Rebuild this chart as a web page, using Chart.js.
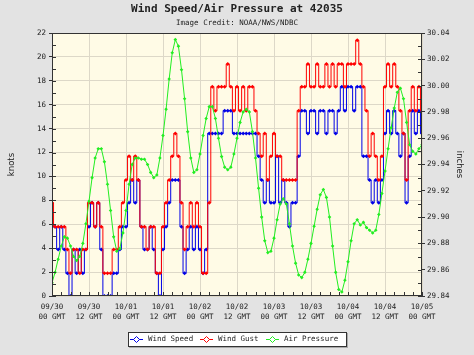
<!DOCTYPE html>
<html><head><meta charset="utf-8">
<script src="https://cdn.jsdelivr.net/npm/chart.js@4"></script>
<style>html,body{margin:0;padding:0;background:#e3e3e3;overflow:hidden}</style>
</head><body>
<canvas id="c" width="474" height="355" style="display:block;width:474px;height:355px"></canvas>
<script>
const chartTitle = "Wind Speed/Air Pressure at 42035";
const chartSubtitle = "Image Credit: NOAA/NWS/NDBC";
const leftAxisTitle = "knots";
const rightAxisTitle = "inches";
const xTickLabels = [["09/30","00 GMT"],["09/30","12 GMT"],["10/01","00 GMT"],["10/01","12 GMT"],["10/02","00 GMT"],["10/02","12 GMT"],["10/03","00 GMT"],["10/03","12 GMT"],["10/04","00 GMT"],["10/04","12 GMT"],["10/05","00 GMT"]];
const seriesNames = ["Wind Speed","Wind Gust","Air Pressure"];
// hourly samples starting 09/30 00 GMT
const windSpeed = [
 5.8,5.8,3.9,5.8,3.9,1.9,0,3.9,1.9,3.9,
 1.9,3.9,5.8,7.8,5.8,7.8,3.9,0,0,0,
 1.9,1.9,3.9,5.8,5.8,7.8,9.7,7.8,9.7,5.8,
 3.9,3.9,5.8,3.9,1.9,0,3.9,5.8,7.8,9.7,
 9.7,9.7,5.8,1.9,3.9,5.8,3.9,5.8,3.9,1.9,
 3.9,13.6,13.6,13.6,13.6,13.6,15.5,15.5,15.5,13.6,
 13.6,13.6,13.6,13.6,13.6,13.6,13.6,11.7,9.7,7.8,
 9.7,7.8,7.8,11.7,7.8,9.7,7.8,5.8,7.8,7.8,
 11.7,15.5,15.5,13.6,15.5,15.5,13.6,15.5,15.5,13.6,
 15.5,15.5,13.6,15.5,17.5,15.5,17.5,17.5,15.5,17.5,
 17.5,11.7,11.7,9.7,7.8,9.7,7.8,9.7,13.6,15.5,
 13.6,15.5,13.6,11.7,13.6,7.8,11.7,15.5,13.6,15.5,
 13.6];
const windGust = [
 7.8,5.8,5.8,5.8,5.8,3.9,1.9,3.9,3.9,1.9,
 3.9,3.9,7.8,7.8,5.8,7.8,5.8,1.9,1.9,1.9,
 3.9,3.9,5.8,7.8,9.7,11.7,9.7,11.7,9.7,5.8,
 5.8,3.9,5.8,5.8,1.9,1.9,5.8,7.8,9.7,11.7,
 13.6,11.7,7.8,3.9,5.8,7.8,5.8,7.8,5.8,1.9,
 1.9,7.8,17.5,15.5,17.5,17.5,17.5,19.4,17.5,15.5,
 17.5,15.5,17.5,15.5,17.5,17.5,15.5,13.6,11.7,13.6,
 9.7,11.7,13.6,11.7,11.7,9.7,9.7,9.7,9.7,9.7,
 15.5,17.5,17.5,19.4,17.5,17.5,19.4,17.5,17.5,19.4,
 17.5,19.4,17.5,19.4,19.4,17.5,19.4,19.4,19.4,21.4,
 19.4,17.5,15.5,11.7,13.6,11.7,9.7,11.7,17.5,19.4,
 17.5,19.4,17.5,15.5,13.6,9.7,15.5,17.5,15.5,17.5,
 15.5];
const airPressure = [
 29.850,29.858,29.868,29.878,29.885,29.884,29.878,29.870,29.867,29.870,
 29.880,29.895,29.912,29.930,29.945,29.952,29.952,29.942,29.925,29.905,
 29.885,29.874,29.876,29.888,29.905,29.925,29.940,29.945,29.945,29.944,
 29.944,29.940,29.934,29.930,29.932,29.945,29.962,29.982,30.005,30.025,
 30.035,30.030,30.012,29.990,29.965,29.945,29.934,29.936,29.948,29.962,
 29.975,29.984,29.984,29.975,29.960,29.946,29.938,29.936,29.938,29.948,
 29.960,29.972,29.980,29.982,29.980,29.965,29.945,29.922,29.900,29.882,
 29.873,29.874,29.884,29.898,29.910,29.914,29.910,29.895,29.878,29.865,
 29.856,29.854,29.858,29.868,29.880,29.893,29.906,29.917,29.921,29.915,
 29.900,29.878,29.858,29.845,29.843,29.852,29.866,29.882,29.895,29.898,
 29.894,29.896,29.892,29.890,29.888,29.890,29.902,29.918,29.935,29.952,
 29.968,29.983,29.995,29.998,29.990,29.972,29.955,29.950,29.948,29.952,
 29.955];

const toXY = arr => arr.map((v,i)=>({x:i,y:v}));
const MONO = "'DejaVu Sans Mono', 'Liberation Mono', monospace";
const SANS = "'DejaVu Sans', Verdana, sans-serif";
const TXT = '#222';
const COLORS = ['#0000e6','#ff0000','#22ee22'];

const decor = {
  id:'decor',
  beforeDraw(chart){
    const {ctx, chartArea:a} = chart;
    ctx.save();
    ctx.fillStyle = '#e3e3e3';
    ctx.fillRect(0,0,chart.width,chart.height);
    ctx.fillStyle = '#fffbe6';
    ctx.fillRect(a.left,a.top,a.right-a.left,a.bottom-a.top);
    ctx.restore();
  },
  afterDraw(chart){
    const {ctx, chartArea:a, scales} = chart;
    ctx.save();
    ctx.strokeStyle = '#333';
    ctx.lineWidth = 1;
    ctx.strokeRect(a.left+0.5,a.top+0.5,a.right-a.left-1,a.bottom-a.top-1);
    ctx.beginPath();
    const xs = scales.x, yl = scales.y, yr = scales.y1;
    for (let h = xs.min; h <= xs.max; h += 3){ const p = Math.round(xs.getPixelForValue(h))+0.5; ctx.moveTo(p,a.bottom); ctx.lineTo(p,a.bottom-4); }
    for (let k = yl.min; k <= yl.max; k += 1){ const p = Math.round(yl.getPixelForValue(k))+0.5; ctx.moveTo(a.left,p); ctx.lineTo(a.left+4,p); }
    for (let j = 0; j <= 20; j++){ const v = yr.min + j*0.01; const p = Math.round(yr.getPixelForValue(v))+0.5; ctx.moveTo(a.right,p); ctx.lineTo(a.right-4,p); }
    ctx.stroke();
    ctx.fillStyle = TXT;
    ctx.textAlign = 'center';
    ctx.textBaseline = 'middle';
    ctx.font = "bold 11px " + MONO;
    ctx.fillText(chartTitle, 237, 9);
    ctx.font = "7.5px " + MONO;
    ctx.fillText(chartSubtitle, 237, 23.5);
    const bx = 128, by = 332, bw = 219, bh = 15;
    ctx.fillStyle = '#aaa';
    ctx.fillRect(bx+1,by+1,bw,bh);
    ctx.fillStyle = '#fff';
    ctx.fillRect(bx,by,bw,bh);
    ctx.strokeStyle = '#333';
    ctx.strokeRect(bx+0.5,by+0.5,bw-1,bh-1);
    const starts = [130,200,266];
    const ly = 339.5;
    chart.data.datasets.forEach((ds,i)=>{
      const x0 = starts[i];
      ctx.strokeStyle = ds.borderColor;
      ctx.lineWidth = 1;
      ctx.beginPath(); ctx.moveTo(x0,ly); ctx.lineTo(x0+13,ly); ctx.stroke();
      ctx.beginPath();
      const cx = x0+6.5;
      ctx.moveTo(cx,ly-3); ctx.lineTo(cx+3,ly); ctx.lineTo(cx,ly+3); ctx.lineTo(cx-3,ly); ctx.closePath();
      ctx.fillStyle = '#fff'; ctx.fill(); ctx.stroke();
      ctx.fillStyle = TXT;
      ctx.textAlign = 'left';
      ctx.font = "7.5px " + MONO;
      ctx.fillText(ds.label, x0+18, ly);
    });
    ctx.restore();
  }
};

new Chart(document.getElementById('c'), {
  type:'line',
  data:{datasets:[
    {label:seriesNames[0], data:toXY(windSpeed), yAxisID:'y', borderColor:COLORS[0], backgroundColor:COLORS[0], borderWidth:1, stepped:'middle', pointStyle:'rectRot', pointRadius:2, pointBorderWidth:0, order:3},
    {label:seriesNames[1], data:toXY(windGust), yAxisID:'y', borderColor:COLORS[1], backgroundColor:COLORS[1], borderWidth:1, stepped:'middle', pointStyle:'rectRot', pointRadius:2, pointBorderWidth:0, order:2},
    {label:seriesNames[2], data:toXY(airPressure), yAxisID:'y1', borderColor:COLORS[2], backgroundColor:COLORS[2], borderWidth:1, pointStyle:'rectRot', pointRadius:1.8, pointBorderWidth:0, order:1}
  ]},
  options:{
    responsive:false, animation:false, devicePixelRatio:1,
    layout:{padding:{top:33,left:0,right:0,bottom:0}},
    plugins:{legend:{display:false}, tooltip:{enabled:false}, title:{display:false}},
    elements:{line:{tension:0}},
    scales:{
      x:{type:'linear', min:0, max:120, afterFit(s){s.height=59;},
        grid:{color:'#ddd8c8', drawTicks:false}, border:{display:false},
        ticks:{stepSize:12, autoSkip:false, maxRotation:0, padding:6, color:TXT,
          font:{family:MONO,size:7.5,lineHeight:1.33},
          callback:v=>xTickLabels[Math.round(v/12)]}},
      y:{type:'linear', position:'left', min:0, max:22, afterFit(s){s.width=52;},
        grid:{color:'#ddd8c8', tickLength:3, tickColor:'#333'}, border:{display:false},
        ticks:{stepSize:2, padding:3, color:TXT, font:{family:MONO,size:7.5}},
        title:{display:true, text:leftAxisTitle, color:TXT, font:{family:SANS,size:8.5}, padding:{top:7,bottom:0}}},
      y1:{type:'linear', position:'right', min:29.84, max:30.04, afterFit(s){s.width=52;},
        grid:{drawOnChartArea:false, tickLength:3, tickColor:'#333'}, border:{display:false},
        ticks:{stepSize:0.02, padding:2, color:TXT, font:{family:MONO,size:7.5}, callback:v=>Number(v).toFixed(2)},
        title:{display:true, text:rightAxisTitle, color:TXT, font:{family:SANS,size:8.5}, padding:{top:10,bottom:0}}}
    }
  },
  plugins:[decor]
});
</script>
</body></html>
